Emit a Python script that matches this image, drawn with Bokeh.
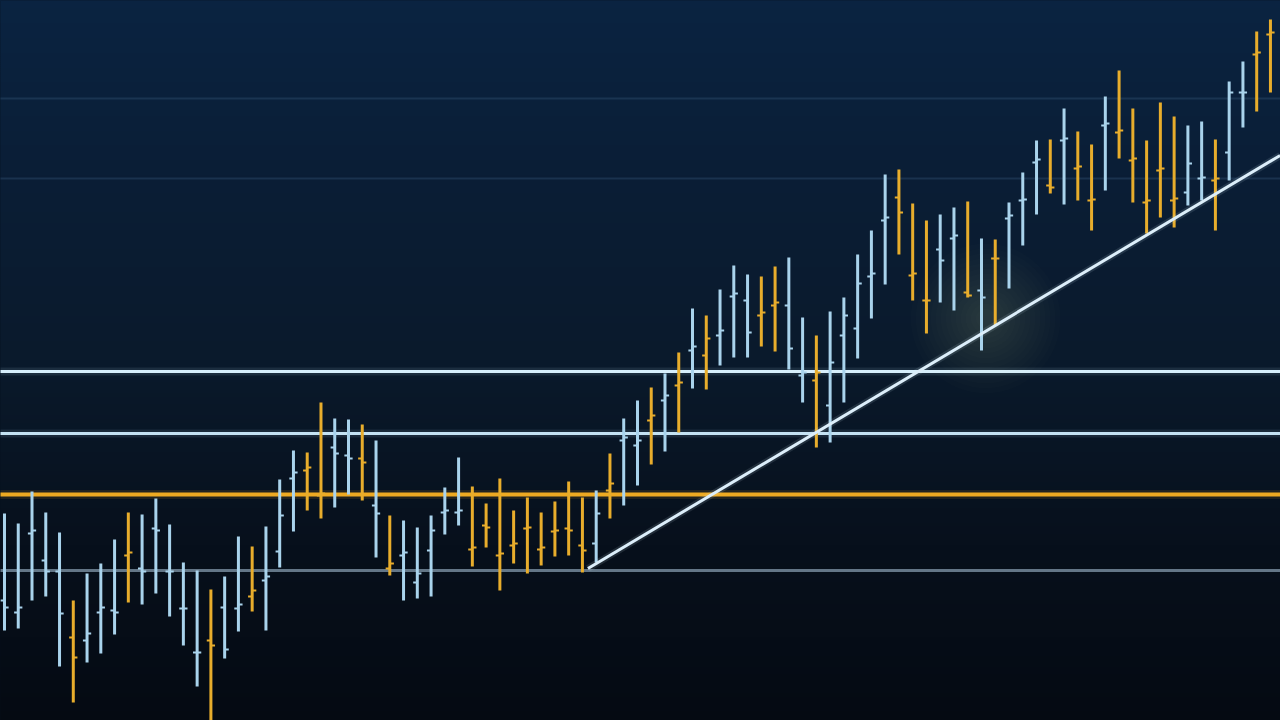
import numpy as np
from bokeh.plotting import figure
from bokeh.models import Range1d, ColumnDataSource, GlobalInlineStyleSheet
from bokeh.embed import file_html
from bokeh.resources import INLINE

# ---------------- data ----------------
highs = [120.7, 119.7, 122.9, 120.8, 118.8, 112.0, 114.7, 115.7, 118.1, 120.8,
         120.6, 122.2, 119.6, 115.8, 115.0, 113.1, 114.4, 118.4, 117.4, 119.4,
         124.1, 127.0, 126.8, 131.8, 130.2, 130.1, 129.6, 128.0, 120.5, 120.0,
         119.3, 120.5, 123.3, 126.3, 123.4, 121.7, 124.2, 121.0, 122.3, 120.8,
         121.9, 123.9, 122.3, 123.0, 126.7, 130.2, 132.0, 133.3, 134.7, 136.8,
         141.2, 140.5, 143.1, 145.5, 144.6, 144.4, 145.4, 146.3, 140.3, 138.5,
         140.9, 142.3, 146.6, 149.0, 154.6, 155.1, 151.7, 150.0, 150.6, 151.3,
         151.9, 148.2, 148.1, 151.8, 154.8, 158.0, 158.1, 161.2, 158.9, 157.6,
         162.4, 165.0, 161.2, 158.0, 161.8, 160.4, 159.5, 159.9, 158.1, 163.9,
         165.9, 168.9, 170.1]
lows = [109.0, 109.2, 112.0, 112.4, 105.4, 101.8, 105.8, 106.7, 108.6, 111.8,
        111.6, 112.7, 110.4, 107.5, 103.4, 100.0, 106.2, 108.9, 110.9, 109.0,
        115.3, 118.9, 121.0, 120.2, 121.3, 122.6, 122.0, 116.3, 114.5, 112.0,
        112.2, 112.4, 118.6, 119.5, 115.4, 117.3, 113.0, 115.7, 114.7, 115.5,
        116.4, 116.5, 114.8, 115.8, 120.2, 121.5, 123.5, 125.6, 126.9, 128.8,
        133.2, 133.1, 135.5, 136.3, 136.3, 137.4, 136.9, 135.1, 131.8, 127.3,
        127.8, 131.8, 136.2, 140.2, 143.6, 146.6, 142.0, 138.7, 141.8, 141.0,
        142.3, 137.0, 139.5, 143.2, 147.5, 150.6, 152.7, 151.6, 152.0, 149.0,
        153.0, 156.2, 151.8, 148.7, 150.3, 149.3, 151.5, 152.0, 149.0, 154.0,
        159.3, 160.9, 162.8]
opens = [112.0, 110.8, 118.7, 116.0, 114.9, 108.3, 108.0, 110.8, 111.0, 116.5,
         115.2, 119.2, 114.9, 111.2, 106.8, 108.0, 111.3, 111.2, 112.4, 114.0,
         116.9, 124.2, 125.0, 122.5, 127.3, 126.5, 126.2, 121.5, 115.2, 116.5,
         113.8, 117.0, 120.8, 120.8, 117.1, 119.5, 116.5, 117.5, 119.2, 117.1,
         118.9, 119.2, 117.5, 117.7, 123.0, 128.0, 127.5, 130.0, 132.0, 133.5,
         137.0, 136.5, 138.5, 142.4, 142.0, 140.5, 141.5, 141.5, 134.5, 134.0,
         131.5, 138.5, 139.2, 144.4, 150.0, 152.3, 144.5, 142.0, 147.1, 148.2,
         142.8, 143.0, 146.2, 150.2, 152.0, 155.8, 153.5, 158.0, 155.2, 152.0,
         159.5, 158.8, 156.0, 151.8, 155.0, 152.0, 152.8, 154.2, 154.0, 156.8,
         162.8, 166.6, 168.6]
closes = [111.3, 111.3, 119.0, 114.9, 110.7, 106.3, 108.7, 111.3, 110.8, 116.8,
          114.9, 119.0, 114.9, 111.2, 106.8, 107.5, 107.1, 111.6, 113.0, 114.4,
          120.5, 124.8, 125.3, 122.7, 126.7, 126.2, 125.8, 120.7, 115.7, 116.8,
          114.7, 119.0, 121.0, 121.0, 117.3, 119.3, 116.7, 117.7, 119.3, 117.3,
          119.0, 119.0, 117.0, 120.7, 123.7, 128.3, 128.0, 130.5, 132.5, 133.8,
          137.4, 138.2, 139.0, 142.7, 138.8, 140.8, 141.8, 137.2, 134.8, 134.8,
          135.8, 140.5, 143.7, 144.7, 150.3, 150.8, 144.7, 142.0, 146.0, 148.5,
          142.5, 142.3, 146.2, 150.5, 152.1, 156.1, 153.3, 158.2, 155.4, 152.1,
          159.7, 159.0, 156.2, 152.0, 155.2, 152.2, 155.7, 154.3, 154.2, 162.8,
          162.8, 166.8, 168.8]
bar_kind = ["b", "b", "b", "b", "b", "o", "b", "b", "b", "o",
            "b", "b", "b", "b", "b", "o", "b", "b", "o", "b",
            "b", "b", "o", "o", "b", "b", "o", "b", "o", "b",
            "b", "b", "b", "b", "o", "o", "o", "o", "o", "o",
            "o", "o", "o", "b", "o", "b", "b", "o", "b", "o",
            "b", "o", "b", "b", "b", "o", "o", "b", "b", "o",
            "b", "b", "b", "b", "b", "o", "o", "o", "b", "b",
            "o", "b", "o", "b", "b", "b", "o", "b", "o", "o",
            "b", "o", "o", "o", "o", "o", "b", "b", "o", "b",
            "b", "o", "o"]

faint_levels = [162.2, 154.2]
bright_levels = [134.9, 128.7]
gold_level = 122.6
base_level = 115.0
trend_x = [42.4, 92.7]
trend_y = [115.2, 156.5]
glow_point = (71.3, 140.2)

# ---------------- figure ----------------
W, H = 1280, 720
x0, x1 = -0.29, 92.73
y0, y1 = 100.0, 172.0

p = figure(width=W, height=H, output_backend="svg", toolbar_location=None,
           x_range=Range1d(x0, x1), y_range=Range1d(y0, y1),
           min_border=0, min_border_left=0, min_border_right=0,
           min_border_top=0, min_border_bottom=0)
p.axis.visible = False
p.grid.visible = False
p.outline_line_color = None
p.background_fill_color = "#07111d"
p.border_fill_color = "#07111d"
p.stylesheets = [GlobalInlineStyleSheet(
    css="html,body{background:linear-gradient(#0a2442,#050a12) !important;overflow:hidden;}")]

# vertical background gradient (top navy -> bottom near black)
stops_pos = [0.0, 0.25, 0.5, 0.75, 1.0]           # from bottom to top
stops_col = [(5, 10, 18), (7, 16, 28), (10, 26, 44), (10, 30, 54), (10, 36, 66)]
n = 200
t = np.linspace(0, 1, n)
img = np.zeros((n, 1), dtype=np.uint32)
view = img.view(dtype=np.uint8).reshape((n, 1, 4))
for c in range(3):
    view[:, 0, c] = np.interp(t, stops_pos, [s[c] for s in stops_col]).astype(np.uint8)
view[:, 0, 3] = 255
p.image_rgba(image=[img], x=x0 - 1, y=y0 - 1, dw=(x1 - x0) + 2, dh=(y1 - y0) + 2)

# faint upper levels
for lv in faint_levels:
    p.line([x0 - 1, x1 + 1], [lv, lv], line_color="#2a4868", line_width=2, line_alpha=0.5)

# bright levels
for lv in bright_levels:
    p.line([x0 - 1, x1 + 1], [lv, lv], line_color="#bfe3f7", line_width=8, line_alpha=0.10)
p.line([x0 - 1, x1 + 1], [bright_levels[0]] * 2, line_color="#d6eefb", line_width=3)
p.line([x0 - 1, x1 + 1], [bright_levels[1]] * 2, line_color="#c4e2f3", line_width=3)
p.line([x0 - 1, x1 + 1], [gold_level] * 2, line_color="#e9a620", line_width=9, line_alpha=0.12)
p.line([x0 - 1, x1 + 1], [gold_level] * 2, line_color="#eeaa22", line_width=4)
p.line([x0 - 1, x1 + 1], [base_level] * 2, line_color="#6e8294", line_width=3, line_alpha=0.9)

# soft glow around the trend line touch point
for r in range(10, 80, 5):
    p.scatter([glow_point[0]], [glow_point[1]], size=2 * r, fill_color="#d8d890",
              fill_alpha=0.012, line_color=None)

# OHLC bars
idx = np.arange(len(highs))
col_map = {"b": "#a9d3ec", "o": "#e8ad2c"}
colors = [col_map[k] for k in bar_kind]
src = ColumnDataSource(dict(x=idx, h=highs, l=lows, o=opens, c=closes,
                            xl=idx - 0.3, xr=idx + 0.3, col=colors))
p.segment(x0="x", y0="l", x1="x", y1="h", line_color="col", line_width=3, source=src)
p.segment(x0="xl", y0="o", x1="x", y1="o", line_color="col", line_width=2, source=src)
p.segment(x0="x", y0="c", x1="xr", y1="c", line_color="col", line_width=2, source=src)

# trend line
p.line(trend_x, trend_y, line_color="#d8ecf8", line_width=7, line_alpha=0.12)
p.line(trend_x, trend_y, line_color="#dceefa", line_width=3)

open("out.html", "w").write(file_html(p, INLINE))
